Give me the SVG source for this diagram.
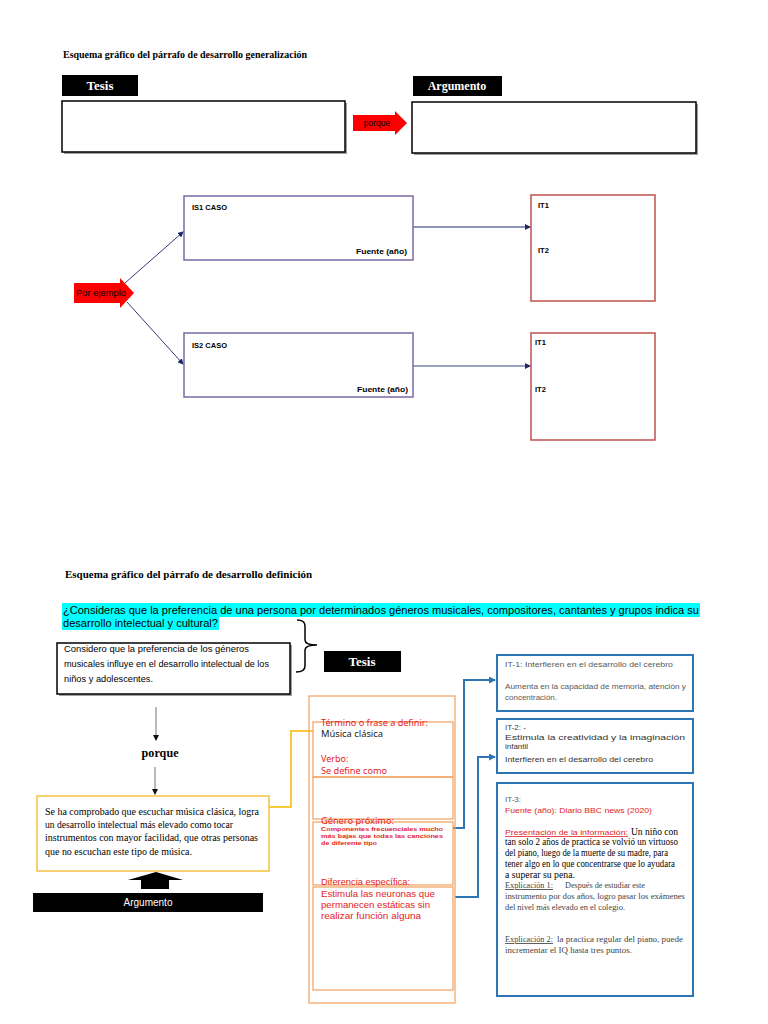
<svg xmlns="http://www.w3.org/2000/svg" width="768" height="1024" viewBox="0 0 768 1024">
<style>
.serifb{font-family:"Liberation Serif","Times New Roman",serif;font-weight:bold}
.serif{font-family:"Liberation Serif","Times New Roman",serif}
.sans{font-family:"Liberation Sans",Arial,sans-serif}
.noto{font-family:"Noto Sans","Open Sans",sans-serif}
.red{fill:#e31b23}
.box{fill:#fff;stroke:#000;stroke-width:1.5}
.shadow{fill:#a0a0a0}
.is{fill:#fff;stroke:#7b68a6;stroke-width:1.5}
.it{fill:#fff;stroke:#c0504d;stroke-width:1.5}
.blue{fill:#fff;stroke:#2e75b6;stroke-width:2}
.orange{fill:none;stroke:#f1a060;stroke-width:1.2}
.navy{stroke:#2f3b78;stroke-width:1;fill:none}
.bl{stroke:#2e75b6;stroke-width:2;fill:none}
.gray{stroke:#8a8a8a;stroke-width:1.2;fill:none}
</style>
<defs>
<marker id="mNavy" markerWidth="6" markerHeight="6" refX="5" refY="3" orient="auto" markerUnits="userSpaceOnUse"><path d="M0,0 L6,3 L0,6 Z" fill="#1f2a6a"/></marker>
<marker id="mBlue" markerWidth="7" markerHeight="7" refX="6" refY="3.5" orient="auto" markerUnits="userSpaceOnUse"><path d="M0,0 L7,3.5 L0,7 Z" fill="#2e75b6"/></marker>
<marker id="mBlack" markerWidth="6" markerHeight="6" refX="5" refY="3" orient="auto" markerUnits="userSpaceOnUse"><path d="M0,0 L6,3 L0,6 Z" fill="#111"/></marker>
</defs>
<rect width="768" height="1024" fill="#fff"/>

<!-- ===== Section 1 ===== -->
<text x="63" y="58" class="serifb" font-size="10" textLength="244" lengthAdjust="spacingAndGlyphs">Esquema gráfico del párrafo de desarrollo generalización</text>

<g id="tesis-label">
<rect x="62" y="75" width="76" height="21" fill="#000"/>
<text x="100" y="90" class="serifb" font-size="13" fill="#fff" text-anchor="middle">Tesis</text>
</g>
<g id="tesis-box">
<rect x="64" y="103" width="283" height="51" class="shadow"/>
<rect x="62" y="101" width="283" height="51" class="box"/>
</g>
<g id="porque-arrow">
<polygon points="353,115 395,115 395,111 407,123 395,135 395,131 353,131" fill="#ff0000"/>
<text x="377" y="126" class="sans" font-size="8.5" text-anchor="middle">porque</text>
</g>
<g id="argumento-label">
<rect x="413" y="76" width="89" height="20" fill="#000"/>
<text x="457" y="90" class="serifb" font-size="12" fill="#fff" text-anchor="middle">Argumento</text>
</g>
<g id="argumento-box">
<rect x="414" y="104" width="284" height="51" class="shadow"/>
<rect x="412" y="102" width="284" height="51" class="box"/>
</g>

<g id="connectors-1">
<line x1="125" y1="283" x2="183" y2="232" class="navy" marker-end="url(#mNavy)"/>
<line x1="127" y1="302" x2="183" y2="364" class="navy" marker-end="url(#mNavy)"/>
<line x1="413" y1="227" x2="530" y2="227" stroke="#6a72a0" stroke-width="1.3" marker-end="url(#mNavy)"/>
<line x1="413" y1="366" x2="530" y2="366" stroke="#3a4580" stroke-width="1.2" marker-end="url(#mNavy)"/>
</g>

<g id="por-ejemplo">
<polygon points="74,283 120,283 120,278 134,293 120,308 120,303 74,303" fill="#ff0000"/>
<text x="76" y="296" class="sans" font-size="9" textLength="50" lengthAdjust="spacingAndGlyphs">Por ejemplo</text>
</g>
<g id="is1">
<rect x="184" y="196" width="229" height="64" class="is"/>
<text x="192" y="210" class="sans" font-size="7.5" font-weight="bold">IS1 CASO</text>
<text x="407" y="254" class="sans" font-size="7.5" font-weight="bold" text-anchor="end" textLength="51" lengthAdjust="spacingAndGlyphs">Fuente (año)</text>
</g>
<g id="is2">
<rect x="184" y="333" width="229" height="64" class="is"/>
<text x="192" y="348" class="sans" font-size="7.5" font-weight="bold">IS2 CASO</text>
<text x="408" y="392" class="sans" font-size="7.5" font-weight="bold" text-anchor="end" textLength="51" lengthAdjust="spacingAndGlyphs">Fuente (año)</text>
</g>
<g id="it-a">
<rect x="531" y="195" width="124" height="106" class="it"/>
<text x="538" y="208" class="sans" font-size="7.5" font-weight="bold">IT1</text>
<text x="538" y="253" class="sans" font-size="7.5" font-weight="bold">IT2</text>
</g>
<g id="it-b">
<rect x="531" y="333" width="124" height="107" class="it"/>
<text x="535" y="345" class="sans" font-size="7.5" font-weight="bold">IT1</text>
<text x="535" y="392" class="sans" font-size="7.5" font-weight="bold">IT2</text>
</g>

<!-- ===== Section 2 ===== -->
<text x="65" y="578" class="serifb" font-size="10" textLength="247" lengthAdjust="spacingAndGlyphs">Esquema gráfico del párrafo de desarrollo definición</text>

<g id="pregunta">
<rect x="62" y="603" width="638" height="14" fill="#00ffff"/>
<rect x="62" y="617" width="157" height="13" fill="#00ffff"/>
<text x="63" y="613.5" class="sans" font-size="11" textLength="636" lengthAdjust="spacingAndGlyphs">¿Consideras que la preferencia de una persona por determinados géneros musicales, compositores, cantantes y grupos indica su</text>
<text x="63" y="627" class="sans" font-size="11" textLength="155" lengthAdjust="spacingAndGlyphs">desarrollo intelectual y cultural?</text>
</g>

<g id="bracket">
<path d="M297,620 Q305,620 305,626 L305,640 Q305,645 317,645 Q305,645 305,650 L305,666 Q305,672 296,672" fill="none" stroke="#000" stroke-width="1.5"/>
</g>

<g id="tesis2-box">
<rect x="59" y="645" width="233" height="51" class="shadow"/>
<rect x="57" y="643" width="233" height="51" class="box"/>
<text x="64" y="652" class="sans" font-size="9" textLength="185" lengthAdjust="spacingAndGlyphs">Considero que la preferencia de los géneros</text>
<text x="64" y="667" class="sans" font-size="9" textLength="205" lengthAdjust="spacingAndGlyphs">musicales influye en el desarrollo intelectual de los</text>
<text x="64" y="682" class="sans" font-size="9" textLength="89" lengthAdjust="spacingAndGlyphs">niños y adolescentes.</text>
</g>
<g id="tesis2-label">
<rect x="324" y="651" width="77" height="21" fill="#000"/>
<text x="362" y="666" class="serifb" font-size="13" fill="#fff" text-anchor="middle">Tesis</text>
</g>

<g id="connectors-2">
<line x1="156" y1="707" x2="156" y2="740" class="gray" marker-end="url(#mBlack)"/>
<line x1="155" y1="767" x2="155" y2="794" class="gray" marker-end="url(#mBlack)"/>
<polyline points="269,807 291,807 291,731 313,731" fill="none" stroke="#f5b800" stroke-width="1.5"/>
<polyline points="453,828 464,828 464,680 495,680" class="bl" marker-end="url(#mBlue)"/>
<polyline points="455,897 478,897 478,757 495,757" class="bl" marker-end="url(#mBlue)"/>
</g>

<g id="porque2">
<text x="160" y="757" class="serifb" font-size="12" text-anchor="middle" textLength="37" lengthAdjust="spacing">porque</text>
</g>

<g id="argumento2-box">
<rect x="37" y="796" width="232" height="75" fill="#fff" stroke="#f5c242" stroke-width="1.5"/>
<text x="45" y="815" class="serif" font-size="9.5" textLength="214" lengthAdjust="spacingAndGlyphs">Se ha comprobado que escuchar música clásica, logra</text>
<text x="45" y="828" class="serif" font-size="9.5" textLength="188" lengthAdjust="spacingAndGlyphs">un desarrollo intelectual más elevado como tocar</text>
<text x="45" y="841" class="serif" font-size="9.5" textLength="213" lengthAdjust="spacingAndGlyphs">instrumentos con mayor facilidad, que otras personas</text>
<text x="45" y="855" class="serif" font-size="9.5" textLength="147" lengthAdjust="spacingAndGlyphs">que no escuchan este tipo de música.</text>
</g>
<g id="up-arrow">
<polygon points="156,872 183,880 169,880 169,889 141,889 141,880 128,880" fill="#000"/>
</g>
<g id="argumento2-label">
<rect x="33" y="893" width="230" height="19" fill="#000"/>
<text x="148" y="906" class="sans" font-size="10" fill="#fff" text-anchor="middle">Argumento</text>
</g>

<g id="definicion">
<rect x="309" y="696" width="146" height="307" class="orange"/>
<rect x="313" y="722" width="140" height="55" class="orange"/>
<rect x="313" y="777" width="140" height="42" class="orange"/>
<rect x="313" y="822" width="140" height="63" class="orange"/>
<rect x="313" y="887" width="140" height="103" class="orange"/>
<text x="321" y="726" class="noto red" font-size="9" textLength="107" lengthAdjust="spacingAndGlyphs">Término o frase a definir:</text>
<text x="321" y="737" class="noto" font-size="9" fill="#222" textLength="62" lengthAdjust="spacingAndGlyphs">Música clásica</text>
<text x="321" y="762" class="noto red" font-size="9">Verbo:</text>
<text x="321" y="774" class="noto red" font-size="9" textLength="66" lengthAdjust="spacingAndGlyphs">Se define como</text>
<text x="321" y="824" class="noto red" font-size="9.5" textLength="73" lengthAdjust="spacingAndGlyphs">Género próximo:</text>
<text x="321" y="831" class="sans red" font-size="6" font-weight="bold" textLength="122" lengthAdjust="spacingAndGlyphs">Componentes frecuenciales mucho</text>
<text x="321" y="838" class="sans red" font-size="6" font-weight="bold" textLength="122" lengthAdjust="spacingAndGlyphs">más bajas que todas las canciones</text>
<text x="321" y="845" class="sans red" font-size="6" font-weight="bold" textLength="56" lengthAdjust="spacingAndGlyphs">de diferente tipo</text>
<text x="321" y="885" class="sans red" font-size="9" textLength="89" lengthAdjust="spacingAndGlyphs">Diferencia específica:</text>
<text x="321" y="897" class="sans red" font-size="9.5" textLength="114" lengthAdjust="spacingAndGlyphs">Estimula las neuronas que</text>
<text x="321" y="908" class="sans red" font-size="9.5" textLength="109" lengthAdjust="spacingAndGlyphs">permanecen estáticas sin</text>
<text x="321" y="919" class="sans red" font-size="9.5" textLength="100" lengthAdjust="spacingAndGlyphs">realizar función alguna</text>
</g>

<g id="it-1">
<rect x="497" y="655" width="196" height="56" class="blue"/>
<text x="505" y="667" class="sans" font-size="8" fill="#595959" textLength="168" lengthAdjust="spacingAndGlyphs">IT-1: Interfieren en el desarrollo del cerebro</text>
<text x="505" y="689" class="sans" font-size="7.5" fill="#595959" textLength="181" lengthAdjust="spacingAndGlyphs">Aumenta en la capacidad de memoria, atención y</text>
<text x="505" y="700" class="sans" font-size="7.5" fill="#595959" textLength="52" lengthAdjust="spacingAndGlyphs">concentración.</text>
</g>
<g id="it-2">
<rect x="497" y="719" width="196" height="54" class="blue"/>
<text x="505" y="730" class="sans" font-size="8" fill="#404040">IT-2: -</text>
<text x="505" y="740" class="sans" font-size="8" fill="#333" textLength="180" lengthAdjust="spacingAndGlyphs">Estimula la creatividad y la imaginación</text>
<text x="505" y="749" class="sans" font-size="8" fill="#333" textLength="23" lengthAdjust="spacingAndGlyphs">infantil</text>
<text x="505" y="762" class="sans" font-size="8" fill="#333" textLength="148" lengthAdjust="spacingAndGlyphs">Interfieren en el desarrollo del cerebro</text>
</g>
<g id="it-3">
<rect x="497" y="783" width="196" height="213" class="blue"/>
<text x="505" y="802" class="sans" font-size="8" fill="#595959">IT-3:</text>
<text x="505" y="813" class="sans red" font-size="8" textLength="147" lengthAdjust="spacingAndGlyphs">Fuente (año): Diario BBC news (2020)</text>
<text x="505" y="835" class="sans red" font-size="8" text-decoration="underline" textLength="123" lengthAdjust="spacingAndGlyphs">Presentación de la información:</text>
<text x="631" y="835" class="serif" font-size="10" textLength="47" lengthAdjust="spacingAndGlyphs">Un niño con</text>
<text x="505" y="845" class="serif" font-size="9.5" textLength="173" lengthAdjust="spacingAndGlyphs">tan solo 2 años de practica se volvió un virtuoso</text>
<text x="505" y="856" class="serif" font-size="9.5" textLength="163" lengthAdjust="spacingAndGlyphs">del piano, luego de la muerte de su madre, para</text>
<text x="505" y="867" class="serif" font-size="9.5" textLength="170" lengthAdjust="spacingAndGlyphs">tener algo en lo que concentrarse que lo ayudara</text>
<text x="505" y="878" class="serif" font-size="9.5" textLength="70" lengthAdjust="spacingAndGlyphs">a superar su pena.</text>
<text x="505" y="888" class="serif" font-size="8.5" fill="#444" text-decoration="underline" textLength="48" lengthAdjust="spacingAndGlyphs">Explicación 1:</text>
<text x="565" y="888" class="serif" font-size="8" fill="#444" textLength="80" lengthAdjust="spacingAndGlyphs">Después de estudiar este</text>
<text x="505" y="899" class="serif" font-size="8" fill="#444" textLength="180" lengthAdjust="spacingAndGlyphs">instrumento por dos años, logro pasar los exámenes</text>
<text x="505" y="910" class="serif" font-size="8" fill="#444" textLength="120" lengthAdjust="spacingAndGlyphs">del nivel más elevado en el colegio.</text>
<text x="505" y="942" class="serif" font-size="8.5" fill="#444" text-decoration="underline" textLength="48" lengthAdjust="spacingAndGlyphs">Explicación 2:</text>
<text x="557" y="942" class="serif" font-size="8" fill="#444" textLength="126" lengthAdjust="spacingAndGlyphs">la practica regular del piano, puede</text>
<text x="505" y="953" class="serif" font-size="8" fill="#444" textLength="127" lengthAdjust="spacingAndGlyphs">incrementar el IQ hasta tres puntos.</text>
</g>
</svg>
